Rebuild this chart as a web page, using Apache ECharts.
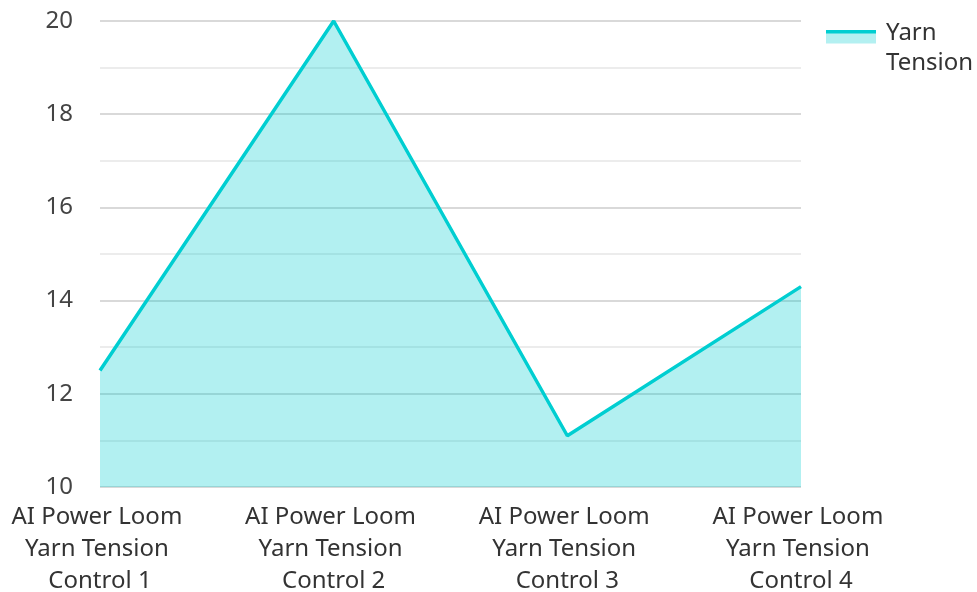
<!DOCTYPE html>
<html>
<head>
<meta charset="utf-8">
<style>
  html, body { margin: 0; padding: 0; background: #ffffff; }
  #chart { width: 977px; height: 592px; }
</style>
<script src="https://cdn.jsdelivr.net/npm/echarts@6/dist/echarts.min.js"></script>
</head>
<body>
<div id="chart"></div>
<script>
// Loom controls on the category axis
const categories = [
  'AI Power Loom Yarn Tension Control 1',
  'AI Power Loom Yarn Tension Control 2',
  'AI Power Loom Yarn Tension Control 3',
  'AI Power Loom Yarn Tension Control 4'
];
// Measured yarn tension per control
const yarnTension = [12.5, 20, 11.1, 14.3];
const seriesName = 'Yarn Tension';

const lineColor = '#00CED1';
const fontFamily = "'Noto Sans', 'Open Sans', sans-serif";

// Legend swatch: a thick line over a filled band, sitting at the top of the item
const legendIcon = 'image://data:image/svg+xml;utf8,' + encodeURIComponent(
  '<svg xmlns="http://www.w3.org/2000/svg" width="55" height="37">' +
  '<rect x="0" y="0" width="50" height="14" fill="#b3f0f1"/>' +
  '<rect x="0" y="0" width="50" height="4" fill="#00CED1"/>' +
  '</svg>'
);

const chart = echarts.init(document.getElementById('chart'), null, { renderer: 'canvas' });
chart.setOption({
  animation: false,
  textStyle: { fontFamily: fontFamily },
  grid: {
    left: 100, right: 176, top: 21, bottom: 105,
    containLabel: false,
    outerBoundsMode: 'none'
  },
  legend: {
    orient: 'vertical',
    left: 826,
    top: 18,
    padding: 0,
    itemWidth: 55,
    itemHeight: 37,
    itemGap: 10,
    icon: legendIcon,
    data: [seriesName],
    textStyle: {
      fontFamily: fontFamily,
      fontSize: 24,
      color: '#333333',
      width: 95,
      overflow: 'break',
      lineHeight: 30
    }
  },
  xAxis: {
    type: 'category',
    data: categories,
    boundaryGap: false,
    axisLine: { show: false },
    axisTick: { show: false },
    axisLabel: {
      interval: 0,
      margin: 14,
      fontFamily: fontFamily,
      fontSize: 24,
      color: '#333333',
      lineHeight: 32,
      width: 200,
      overflow: 'break',
      align: 'center'
    },
    splitLine: { show: false }
  },
  yAxis: {
    type: 'value',
    min: 10,
    max: 20,
    interval: 2,
    axisLine: { show: false },
    axisTick: { show: false },
    axisLabel: {
      margin: 27,
      fontFamily: fontFamily,
      fontSize: 24,
      color: '#444444'
    },
    splitLine: { show: true, lineStyle: { color: '#cccccc', width: 1.5 } },
    minorTick: { show: false, splitNumber: 2 },
    minorSplitLine: { show: true, lineStyle: { color: '#e6e6e6', width: 1.5 } }
  },
  series: [{
    name: seriesName,
    type: 'line',
    data: yarnTension,
    showSymbol: false,
    symbol: 'none',
    lineStyle: { color: lineColor, width: 3.5 },
    itemStyle: { color: lineColor },
    areaStyle: { color: lineColor, opacity: 0.3, origin: 'start' }
  }]
});
</script>
</body>
</html>
